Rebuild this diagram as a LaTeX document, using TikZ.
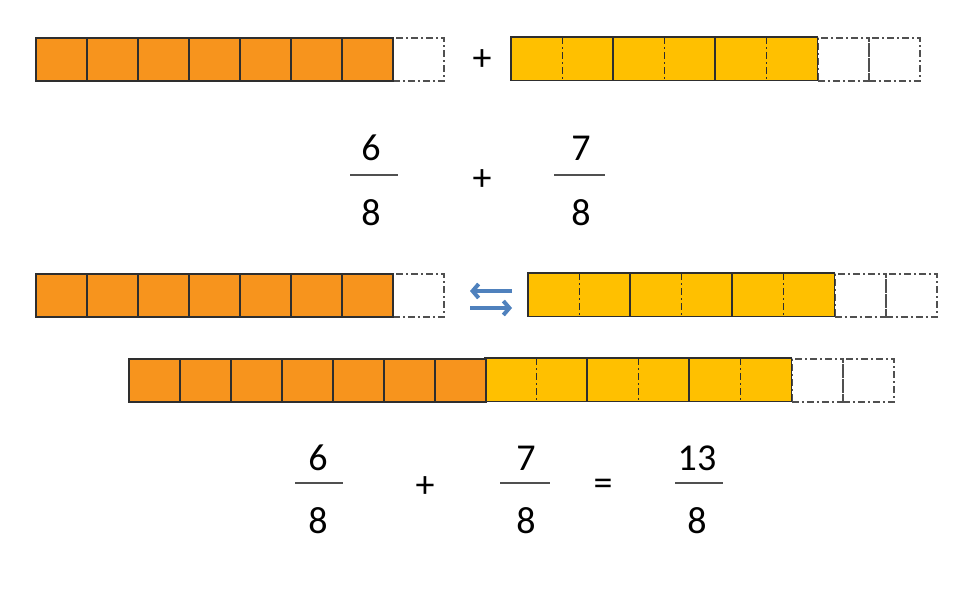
\documentclass[tikz,border=0pt]{standalone}
\usepackage{fontspec}
\setmainfont{Carlito}
\usetikzlibrary{arrows.meta}

\definecolor{orangefill}{HTML}{F7941D}
\definecolor{yellowfill}{HTML}{FFC000}
\definecolor{celledge}{HTML}{2E2E2E}
\definecolor{emptyedge}{HTML}{505050}
\definecolor{swapblue}{HTML}{4F81BD}

\tikzset{
	cell/.style={rectangle, anchor=north west, minimum width=51pt, minimum height=43pt, inner sep=0pt},
	orangecell/.style={cell, fill=orangefill, draw=celledge, line width=1.6pt},
	yellowcell/.style={cell, fill=yellowfill},
	emptycell/.style={cell, draw=emptyedge, line width=1.5pt, dash pattern=on 7pt off 3pt on 2pt off 3pt},
	dashdot/.style={draw=celledge, line width=1.5pt, dash pattern=on 7pt off 3pt on 2pt off 3pt},
	num/.style={font=\fontsize{38}{40}\selectfont, inner sep=0pt},
	fracline/.style={draw=emptyedge, line width=1.2pt},
	swap/.style={swapblue, line width=4pt, -{Straight Barb[length=6pt, width=14pt]}}
}

\begin{document}
\begin{tikzpicture}[x=1pt, y=-1pt]
	\useasboundingbox (0,0) rectangle (958,590);

	% first row: 7 orange, 6 yellow
	\node[emptycell] (a8) at (392,37) {};
	\foreach \i in {0,...,6}
		\node[orangecell] (a\i) at (35+51*\i,37) {};
	\node[num] (plusA) at (482,60) {+};
	\node[emptycell] (b6) at (817,37) {};
	\node[emptycell] (b7) at (868,37) {};
	\foreach \i in {0,...,5}
		\node[yellowcell] (b\i) at (511+51*\i,37) {};
	\foreach \i [evaluate=\i as \j using int(\i+1)] in {0,2,4} {
		\draw[celledge, line width=1.6pt] (b\i.north west) rectangle (b\j.south east);
		\draw[dashdot] (b\i.north east) -- (b\i.south east);
	}

	% fractions
	\node[num] (n1) at (371,148) {6};
	\node[num] (d1) at (371,213) {8};
	\draw[fracline] (350,175) -- (398,175);
	\node[num] (plusB) at (482,180) {+};
	\node[num] (n2) at (581,148) {7};
	\node[num] (d2) at (581,213) {8};
	\draw[fracline] (554,175) -- (605,175);

	% second row, swapped
	\node[emptycell] (c8) at (392,273) {};
	\foreach \i in {0,...,6}
		\node[orangecell] (c\i) at (35+51*\i,273) {};
	\node[emptycell] (e6) at (834,273) {};
	\node[emptycell] (e7) at (885,273) {};
	\foreach \i in {0,...,5}
		\node[yellowcell] (e\i) at (528+51*\i,273) {};
	\foreach \i [evaluate=\i as \j using int(\i+1)] in {0,2,4} {
		\draw[celledge, line width=1.6pt] (e\i.north west) rectangle (e\j.south east);
		\draw[dashdot] (e\i.north east) -- (e\i.south east);
	}
	\coordinate (swapL1) at (470,291);
	\coordinate (swapR1) at (512,291);
	\coordinate (swapL2) at (470,308);
	\coordinate (swapR2) at (512,308);
	\draw[swap] (swapR1) -- (swapL1);
	\draw[swap] (swapL2) -- (swapR2);

	% joined row
	\node[emptycell] (g6) at (791,358) {};
	\node[emptycell] (g7) at (842,358) {};
	\foreach \i in {0,...,5}
		\node[yellowcell] (g\i) at (485+51*\i,358) {};
	\foreach \i [evaluate=\i as \j using int(\i+1)] in {0,2,4} {
		\draw[celledge, line width=1.6pt] (g\i.north west) rectangle (g\j.south east);
		\draw[dashdot] (g\i.north east) -- (g\i.south east);
	}
	\foreach \i in {0,...,6}
		\node[orangecell] (f\i) at (128+51*\i,358) {};

	% sum
	\node[num] (n3) at (318,458) {6};
	\node[num] (d3) at (318,521) {8};
	\draw[fracline] (295,483) -- (343,483);
	\node[num] (plusC) at (425,487) {+};
	\node[num] (n4) at (526,458) {7};
	\node[num] (d4) at (526,521) {8};
	\draw[fracline] (500,483) -- (550,483);
	\node[num] (eq) at (603,487) {=};
	\node[num] (n5) at (697,458) {13};
	\node[num] (d5) at (697,521) {8};
	\draw[fracline] (675,483) -- (723,483);
\end{tikzpicture}
\end{document}
